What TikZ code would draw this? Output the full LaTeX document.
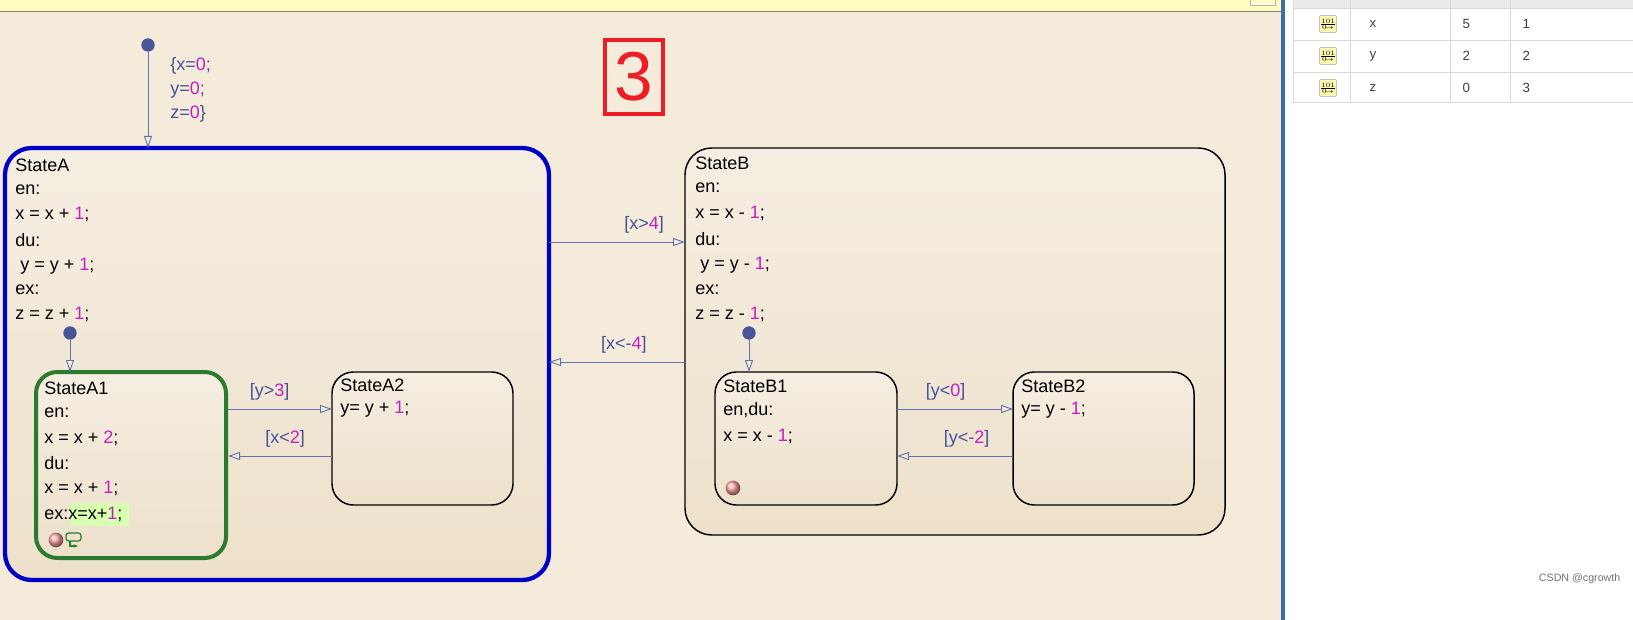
\documentclass[tikz,border=0pt]{standalone}
\usepackage{fontspec}
\setmainfont{Liberation Sans}
\usetikzlibrary{arrows.meta}
\definecolor{bg}{HTML}{F5EBDA}
\definecolor{mg}{HTML}{C21FC2}
\definecolor{lbl}{HTML}{4A4F9A}
\definecolor{tr}{HTML}{6870B0}
\definecolor{dot}{HTML}{4A5599}
\definecolor{abl}{HTML}{0000C8}
\definecolor{agr}{HTML}{2A7A30}
\definecolor{divc}{HTML}{3A6EA5}
\definecolor{red3}{HTML}{EE1C24}
\newcommand{\mgc}[1]{\textcolor{mg}{#1}}
\tikzset{
 st/.style={rounded corners=16pt, top color=stTop, bottom color=stBot, draw=black, line width=1.1pt},
 txt/.style={anchor=west, inner sep=0pt, font=\fontsize{13.5}{15}\selectfont},
 tl/.style={inner sep=0pt, text=lbl, font=\fontsize{13.5}{15}\selectfont},
 trn/.style={draw=tr, line width=0.7pt, -{Triangle[open,length=9pt,width=6pt,fill=bg]}},
 idot/.style={circle, fill=dot, inner sep=0pt, minimum size=10pt},
}
\definecolor{stTop}{HTML}{F6EEE2}
\definecolor{stBot}{HTML}{EDE1CB}
\begin{document}
\begin{tikzpicture}[x=0.75pt,y=-0.75pt]
\useasboundingbox (0,0) rectangle (1633,620);
% backgrounds
\fill[bg] (0,0) rectangle (1282,620);
\fill[yellow!25] (0,0) rectangle (1282,11);
\draw[gray, line width=0.6pt] (0,11.5) -- (1282,11.5);
\draw[gray!60, fill=yellow!20] (1250,-2) rectangle (1275,5);
\fill[white] (1286,0) rectangle (1633,620);
\fill[divc] (1281,0) rectangle (1285,620);
% table
\fill[black!8] (1293,0) rectangle (1633,8);
\foreach \y in {8,40,72,102} \draw[black!15, line width=0.6pt] (1293,\y) -- (1633,\y);
\foreach \x in {1293,1350,1450,1510} \draw[black!15, line width=0.6pt] (\x,0) -- (\x,102);
\foreach \y/\v/\a/\b in {24/x/5/1, 56/y/2/2, 88/z/0/3}{
 \node[draw=black!35, fill=yellow!30, rounded corners=1pt, minimum size=13pt, inner sep=0pt, font=\fontsize{5}{5}\selectfont] (ic\v) at (1328,\y) {$\frac{101}{0\!\to}$};
 \node[anchor=west, font=\fontsize{10}{12}\selectfont, text=black!75] (v\v) at (1365,\y) {\v};
 \node[anchor=west, font=\fontsize{10}{12}\selectfont, text=black!75] (a\v) at (1458,\y) {\a};
 \node[anchor=west, font=\fontsize{10}{12}\selectfont, text=black!75] (b\v) at (1518,\y) {\b};
}
\node[anchor=east, text=black!55, font=\fontsize{8}{10}\selectfont] (wm) at (1625,579) {CSDN @cgrowth};
% red 3
\node[draw=red3, line width=3pt, minimum width=44pt, minimum height=56pt, inner sep=0pt, text=red3, font=\fontsize{52}{52}\selectfont] (three) at (634,77) {3};
% StateA
\draw[st, draw=abl, line width=3.2pt, rounded corners=20pt] (5,148) rectangle (549,580);
\coordinate (Atop) at (148,148);
\node[txt] (Aname) at (15,165) {StateA};
\node[txt] at (15,190) {en:};
\node[txt] at (15,214) {x = x + \mgc{1};};
\node[txt] at (15,240) {du:};
\node[txt] at (15,266) {\ y = y + \mgc{1};};
\node[txt] at (15,290) {ex:};
\node[txt] at (15,314) {z = z + \mgc{1};};
\node[idot] (i0) at (148,45) {};
\draw[trn] (i0) -- (Atop);
\node[tl, anchor=north west, align=left] (ilab) at (170,57) {\{x=\mgc{0};\\[3pt] y=\mgc{0};\\[3pt] z=\mgc{0}\}};
% StateA1
\draw[st, draw=agr, line width=3pt] (36,372) rectangle (226,558);
\coordinate (A1top) at (70,372);
\node[txt] at (44,388) {StateA1};
\node[txt] at (44,413) {en:};
\node[txt] at (44,438) {x = x + \mgc{2};};
\node[txt] at (44,463) {du:};
\node[txt] at (44,488) {x = x + \mgc{1};};
\fill[green!50!yellow!30] (71,503) rectangle (129,526);
\node[txt] at (44,514) {ex:x=x+\mgc{1};};
\shade[ball color=red!35] (56,540) circle (5.5pt);
\draw[agr, line width=0.9pt, rounded corners=2pt] (66,533) rectangle (81,541);
\draw[agr, line width=0.8pt, -{Stealth[length=3pt]}] (70,541) -- (70,546) -- (78,546);
\node[idot] (i1) at (70,333) {};
\draw[trn] (i1) -- (A1top);
% StateA2
\draw[st] (332,372) rectangle (513,505);
\node[txt] at (340,385) {StateA2};
\node[txt] at (340,409) {y= y + \mgc{1};};
\coordinate (A1r1) at (228,409); \coordinate (A2l1) at (332,409);
\coordinate (A2l2) at (332,456); \coordinate (A1r2) at (228,456);
\draw[trn] (A1r1) -- (A2l1) node[tl, pos=0.4, above=6pt] {[y>\mgc{3}]};
\draw[trn] (A2l2) -- (A1r2) node[tl, pos=0.45, above=6pt] {[x<\mgc{2}]};
% StateB
\draw[st, rounded corners=20pt] (685,148) rectangle (1225,535);
\node[txt] at (695,163) {StateB};
\node[txt] at (695,188) {en:};
\node[txt] at (695,213) {x = x - \mgc{1};};
\node[txt] at (695,239) {du:};
\node[txt] at (695,265) {\ y = y - \mgc{1};};
\node[txt] at (695,290) {ex:};
\node[txt] at (695,314) {z = z - \mgc{1};};
\coordinate (Ar1) at (549,242); \coordinate (Bl1) at (685,242);
\coordinate (Bl2) at (685,362); \coordinate (Ar2) at (549,362);
\draw[trn] (Ar1) -- (Bl1) node[tl, pos=0.7, above=6pt] {[x>\mgc{4}]};
\draw[trn] (Bl2) -- (Ar2) node[tl, pos=0.45, above=6pt] {[x<-\mgc{4}]};
% StateB1
\draw[st] (715,372) rectangle (897,505);
\coordinate (B1top) at (749,372);
\node[txt] at (723,386) {StateB1};
\node[txt] at (723,410) {en,du:};
\node[txt] at (723,436) {x = x - \mgc{1};};
\shade[ball color=red!35] (733,488) circle (5.5pt);
\node[idot] (i2) at (749,333) {};
\draw[trn] (i2) -- (B1top);
% StateB2
\draw[st] (1013,372) rectangle (1194,505);
\node[txt] at (1021,386) {StateB2};
\node[txt] at (1021,410) {y= y - \mgc{1};};
\coordinate (B1r1) at (897,409); \coordinate (B2l1) at (1013,409);
\coordinate (B2l2) at (1013,456); \coordinate (B1r2) at (897,456);
\draw[trn] (B1r1) -- (B2l1) node[tl, pos=0.42, above=6pt] {[y<\mgc{0}]};
\draw[trn] (B2l2) -- (B1r2) node[tl, pos=0.4, above=6pt] {[y<-\mgc{2}]};
\end{tikzpicture}
\end{document}
